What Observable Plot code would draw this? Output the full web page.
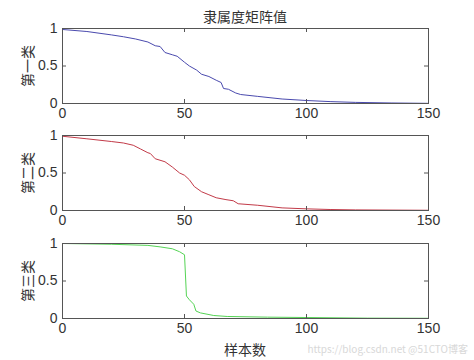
<!DOCTYPE html>
<html><head><meta charset="utf-8">
<script src="https://cdn.jsdelivr.net/npm/d3@7"></script>
<script src="https://cdn.jsdelivr.net/npm/@observablehq/plot@0.6"></script>
<style>
body{margin:0;background:#fff}
#c{position:relative;width:474px;height:360px;overflow:hidden;background:#fff}
#c svg{position:absolute;left:0}
.lbl{position:absolute;font-family:"Noto Sans CJK SC",sans-serif;font-size:14px;color:#333;white-space:nowrap;transform:translateX(-50%)}
.wm{position:absolute;right:6px;bottom:4px;font-family:"Noto Sans CJK SC",sans-serif;font-size:10px;color:#d8d8d8}
</style></head>
<body><div id="c"></div>
<script>
const titleText = "隶属度矩阵值";
const xLabelText = "样本数";
const panelLabels = ["第一类", "第二类", "第三类"];
const colors = ["#4a4aae", "#c23a48", "#55d455"];
const xTicks = [0, 50, 100, 150];
const yTicks = [0, 0.5, 1];

const s1X = [0, 10, 20, 25, 30, 35, 38, 40, 42, 45, 47, 50, 52, 55, 57, 60, 63, 65, 66, 68, 71, 73, 80, 90, 100, 110, 120, 135, 150];
const s1Y = [0.987, 0.96, 0.915, 0.89, 0.86, 0.82, 0.77, 0.76, 0.68, 0.65, 0.63, 0.55, 0.50, 0.445, 0.39, 0.36, 0.31, 0.28, 0.20, 0.19, 0.14, 0.12, 0.095, 0.06, 0.04, 0.025, 0.015, 0.007, 0.002];

const s2X = [0, 10, 20, 25, 29, 32, 35, 36, 38, 42, 45, 48, 50, 52, 54, 57, 60, 63, 67, 70, 72, 80, 90, 100, 110, 120, 150];
const s2Y = [0.99, 0.956, 0.92, 0.90, 0.87, 0.82, 0.77, 0.76, 0.69, 0.65, 0.58, 0.50, 0.47, 0.41, 0.32, 0.25, 0.21, 0.17, 0.145, 0.13, 0.09, 0.07, 0.035, 0.022, 0.013, 0.008, 0.003];

const s3X = [0, 20, 35, 40, 45, 48, 50, 50.8, 52, 53.8, 54.7, 56.5, 62, 67.5, 84, 100, 125, 150];
const s3Y = [1.0, 0.99, 0.975, 0.955, 0.93, 0.89, 0.85, 0.30, 0.25, 0.19, 0.10, 0.075, 0.04, 0.027, 0.018, 0.013, 0.005, 0.003];

const series = [[s1X, s1Y], [s2X, s2Y], [s3X, s3Y]];
const tops = [3, 110, 218];

const W = 474, H = 125, mL = 62, mR = 46, mT = 25, mB = 25;
const pw = W - mL - mR, ph = H - mT - mB, tl = 4;
const c = document.getElementById("c");

series.forEach(([xs, ys], k) => {
  const idx = d3.range(xs.length);
  const svg = Plot.plot({
    width: W, height: H,
    marginLeft: mL, marginRight: mR, marginTop: mT, marginBottom: mB,
    style: {fontFamily: "'Liberation Sans', Arial, sans-serif", fontSize: "14px", color: "#333", background: "transparent"},
    x: {domain: [0, 150], label: null},
    y: {domain: [0, 1], label: null},
    marks: [
      Plot.line(idx, {x: i => xs[i], y: i => ys[i], stroke: colors[k], strokeWidth: 1}),
      Plot.frame({stroke: "#555"}),
      Plot.tickX(xTicks, {x: d => d, insetTop: ph - tl, stroke: "#555"}),
      Plot.tickX(xTicks, {x: d => d, insetBottom: ph - tl, stroke: "#555"}),
      Plot.tickY(yTicks, {y: d => d, insetRight: pw - tl, stroke: "#555"}),
      Plot.tickY(yTicks, {y: d => d, insetLeft: pw - tl, stroke: "#555"}),
      Plot.axisX(xTicks, {tickSize: 0, tickPadding: 5, tickFormat: d => String(d), fill: "#333"}),
      Plot.axisY(yTicks, {tickSize: 0, tickPadding: 5, tickFormat: d => String(d), fill: "#333"}),
      Plot.text([panelLabels[k]], {frameAnchor: "left", textAnchor: "middle", lineAnchor: "middle", rotate: -90, dx: -34, fontFamily: "'Noto Sans CJK SC', sans-serif", fontSize: 14, fill: "#333"})
    ]
  });
  svg.style.top = tops[k] + "px";
  c.appendChild(svg);
});

const t = document.createElement("div");
t.className = "lbl"; t.textContent = titleText;
t.style.left = (mL + pw / 2) + "px"; t.style.top = "6px";
c.appendChild(t);

const xl = document.createElement("div");
xl.className = "lbl"; xl.textContent = xLabelText;
xl.style.left = (mL + pw / 2) + "px"; xl.style.top = "339px";
c.appendChild(xl);

const wm = document.createElement("div");
wm.className = "wm"; wm.textContent = "https://blog.csdn.net @51CTO博客";
c.appendChild(wm);
</script></body></html>
